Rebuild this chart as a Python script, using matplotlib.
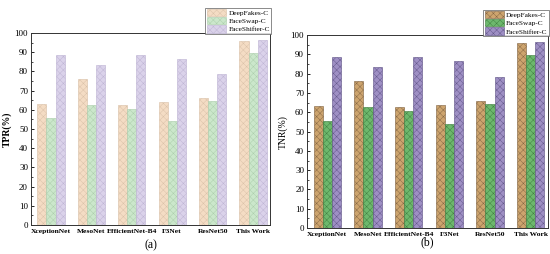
import numpy as np
import matplotlib
matplotlib.use("Agg")
import matplotlib.pyplot as plt
from matplotlib.ticker import MultipleLocator

plt.rcParams["font.family"] = ["Liberation Serif", "DejaVu Serif"]
plt.rcParams["hatch.linewidth"] = 0.3

models = ["XceptionNet", "MesoNet", "EfficientNet-B4", "F3Net", "ResNet50", "This Work"]
series = ["DeepFakes-C", "FaceSwap-C", "FaceShifter-C"]

tpr_deepfakes = [63, 76, 62.5, 64, 66, 96]
tpr_faceswap = [55.5, 62.5, 60.5, 54, 64.5, 89.5]
tpr_faceshifter = [88.5, 83.5, 88.5, 86.5, 78.5, 96.5]

tnr_deepfakes = [63, 76, 62.5, 64, 66, 96]
tnr_faceswap = [55.5, 62.5, 60.5, 54, 64.5, 89.5]
tnr_faceshifter = [88.5, 83.5, 88.5, 86.5, 78.5, 96.5]

light_colors = ["#F4DCC4", "#CBE7CB", "#DAD2EA"]
light_edges = ["#D8BFA6", "#AACCAA", "#BCB2D2"]
dark_colors = ["#CDA46E", "#6DB86D", "#9E8FC4"]
dark_edges = ["#7E6040", "#3C7A3C", "#5E5285"]

fig = plt.figure(figsize=(5.5, 2.54), dpi=100)
ax_a = fig.add_axes([0.056, 0.114, 0.435, 0.756])
ax_b = fig.add_axes([0.558, 0.102, 0.438, 0.76])


def draw(ax, data, colors, edges, ylabel, ylabel_weight):
    x = np.arange(len(models))
    w = 0.225
    for i, vals in enumerate(data):
        ax.bar(x + (i - 1) * w, vals, w, color=colors[i], edgecolor=edges[i],
               hatch="xxxxx", linewidth=0.4, label=series[i])
    ax.set_xlim(-0.5, 5.42)
    ax.set_ylim(0, 100)
    ax.yaxis.set_major_locator(MultipleLocator(10))
    ax.yaxis.set_minor_locator(MultipleLocator(5))
    ax.tick_params(axis="y", direction="in", length=2.5, width=0.6, labelsize=6.5, pad=2)
    ax.tick_params(axis="y", which="minor", direction="in", length=1.5, width=0.5)
    ax.tick_params(axis="x", length=0, labelsize=5.4, pad=2.5)
    ax.set_xticks(x)
    ax.set_xticklabels(models, fontweight="bold")
    ax.set_ylabel(ylabel, fontsize=7, fontweight=ylabel_weight, labelpad=2)
    for s in ax.spines.values():
        s.set_linewidth(0.7)
        s.set_color("#333333")
    leg = ax.legend(loc="lower right", bbox_to_anchor=(1.005, 0.995), fontsize=5.3,
                    frameon=True, fancybox=False, borderpad=0.2, labelspacing=0.15,
                    handlelength=2.6, handleheight=1.1, handletextpad=0.3,
                    borderaxespad=0.0)
    leg.get_frame().set_edgecolor("#555555")
    leg.get_frame().set_linewidth(0.6)


draw(ax_a, [tpr_deepfakes, tpr_faceswap, tpr_faceshifter], light_colors, light_edges, "TPR(%)", "bold")
draw(ax_b, [tnr_deepfakes, tnr_faceswap, tnr_faceshifter], dark_colors, dark_edges, "TNR(%)", "normal")

fig.text(0.275, 0.035, "(a)", ha="center", va="center", fontsize=8.5)
fig.text(0.777, 0.045, "(b)", ha="center", va="center", fontsize=8.5)

fig.savefig("out.png", dpi=100)
